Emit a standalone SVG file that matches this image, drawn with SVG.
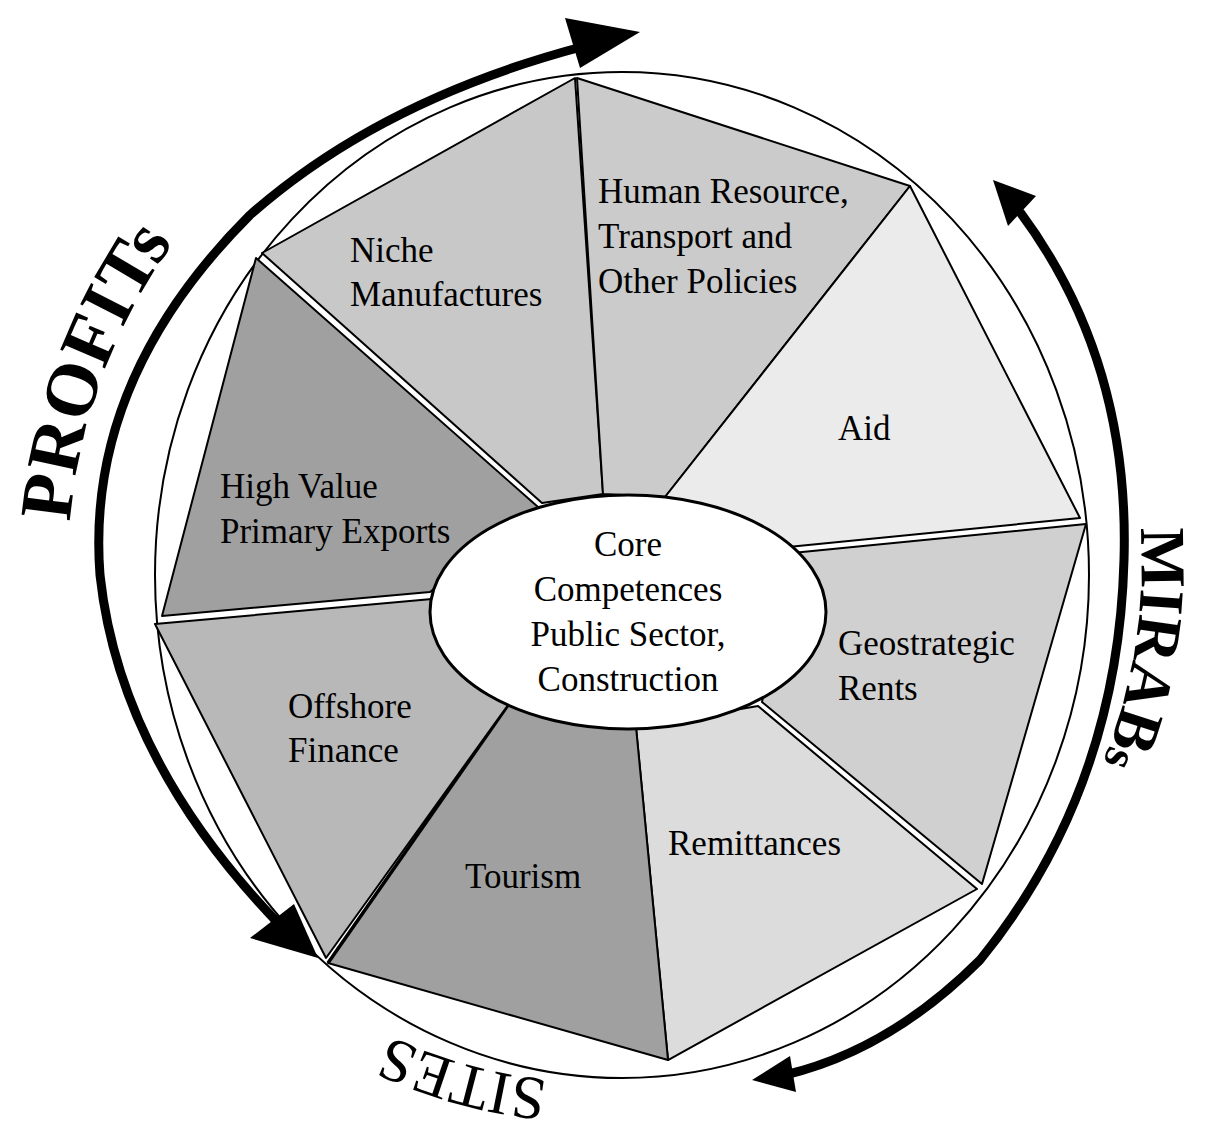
<svg xmlns="http://www.w3.org/2000/svg" width="1228" height="1144" viewBox="0 0 1228 1144">
<style>
.w{stroke:#000;stroke-width:2;stroke-linejoin:round}
.t{font-family:"Liberation Serif","Times New Roman",serif;font-size:35px;fill:#000}
.big{font-family:"Liberation Serif","Times New Roman",serif;font-weight:bold;font-size:74px;fill:#000}
.arc{fill:none;stroke:#000;stroke-width:9}
</style>
<defs>
<path id="pp" d="M 70 522 A 555 555 0 0 1 400 60"/>
<path id="pm" d="M 1140 528 A 520 520 0 0 1 960 960"/>
<path id="ps" d="M 548 1080 A 508 508 0 0 1 250 940"/>
</defs>
<rect width="1228" height="1144" fill="#fff"/>
<ellipse cx="622" cy="575" rx="467" ry="503" fill="none" stroke="#000" stroke-width="2"/>
<g id="niche"><polygon class="w" fill="#c8c8c8" points="262,253 575,78 603,494 542,503"/><text class="t" x="350" y="262">Niche</text><text class="t" x="350" y="306">Manufactures</text></g>
<g id="human"><polygon class="w" fill="#cbcbcb" points="577,78 910,186 665,497 603,494"/><text class="t" x="598" y="203">Human Resource,</text><text class="t" x="598" y="248">Transport and</text><text class="t" x="598" y="293">Other Policies</text></g>
<g id="aid"><polygon class="w" fill="#ebebeb" points="910,186 1080,518 788,547 665,497"/><text class="t" x="838" y="440">Aid</text></g>
<g id="geo"><polygon class="w" fill="#d0d0d0" points="1086,524 982,884 762,702 792,553"/><text class="t" x="838" y="655">Geostrategic</text><text class="t" x="838" y="700">Rents</text></g>
<g id="remit"><polygon class="w" fill="#dcdcdc" points="977,889 668,1060 636,727 758,706"/><text class="t" x="668" y="855">Remittances</text></g>
<g id="tourism"><polygon class="w" fill="#a0a0a0" points="668,1060 328,963 508,705 636,727"/><line x1="328" y1="963" x2="508" y2="705" stroke="#000" stroke-width="3.5"/><text class="t" x="465" y="888">Tourism</text></g>
<g id="offshore"><polygon class="w" fill="#b8b8b8" points="326,958 155,624 432,599 508,705"/><text class="t" x="288" y="718">Offshore</text><text class="t" x="288" y="762">Finance</text></g>
<g id="highvalue"><polygon class="w" fill="#a0a0a0" points="162,616 256,258 538,507 430,592"/><text class="t" x="220" y="498">High Value</text><text class="t" x="220" y="543">Primary Exports</text></g>
<g id="core"><ellipse cx="628" cy="612" rx="198" ry="117" fill="#fff" stroke="#000" stroke-width="3"/>
<text class="t" text-anchor="middle" x="628" y="556">Core</text><text class="t" text-anchor="middle" x="628" y="601">Competences</text><text class="t" text-anchor="middle" x="628" y="646">Public Sector,</text><text class="t" text-anchor="middle" x="628" y="691">Construction</text></g>
<g id="connectors">
<path class="arc" d="M 280 925 Q 120 760 100 575 Q 85 380 250 215 Q 380 100 585 46"/>
<polygon points="565,18 640,32 580,68"/>
<polygon points="250,938 318,958 294,904"/>
<path class="arc" d="M 1020 212 Q 1130 360 1124 560 Q 1118 790 980 960 Q 890 1050 785 1075"/>
<polygon points="993,180 1036,196 1008,226"/>
<polygon points="752,1080 790,1056 796,1092"/>
</g>
<g id="labels">
<text class="big"><textPath href="#pp">PROFITs</textPath></text>
<text class="big" style="font-size:64px"><textPath href="#pm">MIRAB<tspan style="font-size:48px">s</tspan></textPath></text>
<text class="big" style="font-weight:normal;font-size:62px"><textPath href="#ps">SITES</textPath></text>
</g>
</svg>
